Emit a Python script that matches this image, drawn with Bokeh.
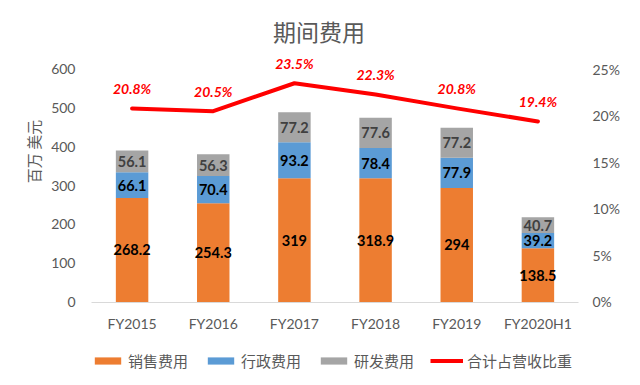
from bokeh.plotting import figure
from bokeh.layouts import column
from bokeh.models import (ColumnDataSource, LinearAxis, Range1d, FactorRange, LabelSet, Label,
                          Legend, LegendItem, NumeralTickFormatter, FixedTicker)
from bokeh.core.properties import value
from bokeh.embed import file_html
from bokeh.resources import INLINE

categories = ["FY2015", "FY2016", "FY2017", "FY2018", "FY2019", "FY2020H1"]
sales = [268.2, 254.3, 319, 318.9, 294, 138.5]
admin = [66.1, 70.4, 93.2, 78.4, 77.9, 39.2]
rnd = [56.1, 56.3, 77.2, 77.6, 77.2, 40.7]
ratio = [20.8, 20.5, 23.5, 22.3, 20.8, 19.4]
left_ticks = [0, 100, 200, 300, 400, 500, 600]
right_ticks = [0, 0.05, 0.10, 0.15, 0.20, 0.25]

title_text = "期间费用"
y_title = "百万 美元"
series_names = ["销售费用", "行政费用", "研发费用"]
line_name = "合计占营收比重"
colors = ["#ED7D31", "#5B9BD5", "#A5A5A5"]
line_color = "#FF0000"

CJK = "Noto Sans CJK SC"
NUM = "Lato"
GREY = "#595959"

def fmt(v):
    return f"{v:g}"

src = ColumnDataSource(dict(
    cat=categories, sales=sales, admin=admin, rnd=rnd,
    ratio=[r / 100 for r in ratio],
    sales_mid=[s / 2 for s in sales],
    admin_mid=[s + a / 2 for s, a in zip(sales, admin)],
    rnd_mid=[s + a + r / 2 for s, a, r in zip(sales, admin, rnd)],
    sales_txt=[fmt(v) for v in sales],
    admin_txt=[fmt(v) for v in admin],
    rnd_txt=[fmt(v) for v in rnd],
    ratio_txt=[f"{v:.1f}%" for v in ratio],
))

# frame extends to the top of the figure so that the title and labels sit inside it
FH = 302
y_lo, y_hi = -1.3, 777.4
p = figure(x_range=FactorRange(*categories, range_padding=0), y_range=Range1d(y_lo, y_hi),
           frame_width=487, frame_height=FH, output_backend="svg", toolbar_location=None,
           min_border_left=91, min_border_right=54, min_border_top=0, min_border_bottom=0)
p.extra_y_ranges = {"pct": Range1d(y_lo / 2400, y_hi / 2400)}
p.title.visible = False
p.title.standoff = 0

p.outline_line_color = None
p.xgrid.grid_line_color = None
p.ygrid.grid_line_color = None
p.background_fill_color = "white"
p.border_fill_color = "white"

renderers = p.vbar_stack(["sales", "admin", "rnd"], x="cat", width=0.40, color=colors,
                         line_color=None, source=src)
p.line(x="cat", y="ratio", source=src, y_range_name="pct", line_color=line_color,
       line_width=4, line_cap="round", line_join="round")

p.add_layout(Label(x=227.5, y=FH - 30.5, x_units="screen", y_units="screen", text=title_text,
                   text_font=CJK, text_font_size="23px", text_color=GREY,
                   text_align="center", text_baseline="middle"))

def style_axis(ax, standoff):
    ax.axis_line_color = None
    ax.major_tick_line_color = None
    ax.minor_tick_line_color = None
    ax.major_tick_out = 0
    ax.major_tick_in = 0
    ax.minor_tick_out = 0
    ax.minor_tick_in = 0
    ax.major_label_text_font = NUM
    ax.major_label_text_font_size = "14px"
    ax.major_label_text_color = GREY
    ax.major_label_standoff = standoff

yax = p.yaxis[0]
yax.ticker = FixedTicker(ticks=left_ticks)
style_axis(yax, 16)
yax.axis_label = y_title
yax.axis_label_text_font = CJK
yax.axis_label_text_font_size = "15px"
yax.axis_label_text_font_style = "normal"
yax.axis_label_text_color = GREY
yax.axis_label_standoff = 4

rax = LinearAxis(y_range_name="pct", ticker=FixedTicker(ticks=right_ticks),
                 formatter=NumeralTickFormatter(format="0%"))
style_axis(rax, 14)
p.add_layout(rax, "right")

xax = p.xaxis[0]
style_axis(xax, 12)
xax.axis_line_color = "#D9D9D9"
xax.axis_line_width = 1

for col, ycol, color in [("sales_txt", "sales_mid", "#000000"),
                         ("admin_txt", "admin_mid", "#000000"),
                         ("rnd_txt", "rnd_mid", "#404040")]:
    p.add_layout(LabelSet(x="cat", y=ycol, text=col, source=src, text_align="center",
                          text_baseline="middle", text_font=value(NUM), text_font_size="14.5px",
                          text_font_style="bold", text_color=color))

p.add_layout(LabelSet(x="cat", y="ratio", text="ratio_txt", source=src, y_range_name="pct",
                      y_offset=20, text_align="center", text_baseline="middle", text_font=value(NUM),
                      text_font_size="14px", text_font_style="bold italic", text_color=line_color))

# legend strip below the chart (its frame lines up with the chart frame)
LH = 46
q = figure(width=632, height=LH, x_range=Range1d(0, 1), y_range=Range1d(0, 1),
           x_axis_type=None, y_axis_type=None, output_backend="svg", toolbar_location=None,
           min_border_left=0, min_border_right=0, min_border_top=0, min_border_bottom=0)
q.title.visible = False
q.outline_line_color = None
q.xgrid.grid_line_color = None
q.ygrid.grid_line_color = None
q.border_fill_color = "white"
hidden = ColumnDataSource(dict(x=[-10, -11], y=[-10, -11]))
items = []
for n, c in zip(series_names, colors):
    r = q.vbar(x="x", top="y", width=0.1, color=c, line_color=None, source=hidden)
    items.append(LegendItem(label=n, renderers=[r]))
rl = q.line(x="x", y="y", line_color=line_color, line_width=4, source=hidden)
items.append(LegendItem(label=line_name, renderers=[rl]))
legend = Legend(items=items, orientation="horizontal", location=(0, 9), spacing=16,
                glyph_width=33, glyph_height=9, label_height=16,
                label_text_font=CJK, label_text_font_size="15px", label_text_baseline="middle",
                label_text_color=GREY, border_line_color=None, background_fill_alpha=0,
                padding=0, margin=0, label_standoff=4)
q.add_layout(legend, "center")

layout = column(p, q, spacing=0)
open("out.html", "w").write(file_html(layout, INLINE))
